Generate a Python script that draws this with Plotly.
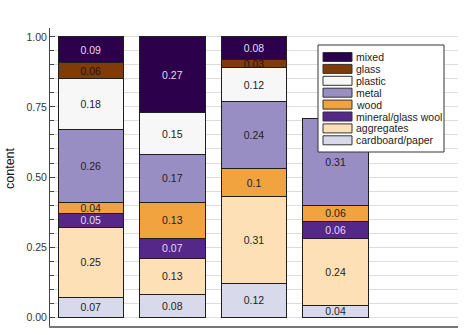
import plotly.graph_objects as go

# Material shares per container (bottom to top stacking order)
containers = ["A", "B", "C", "D"]
materials = ["cardboard/paper", "aggregates", "mineral/glass wool", "wood",
             "metal", "plastic", "glass", "mixed"]
cardboard = [0.07, 0.08, 0.12, 0.04]
aggregates = [0.25, 0.13, 0.31, 0.24]
mineral_wool = [0.05, 0.07, 0.00, 0.06]
wood = [0.04, 0.13, 0.10, 0.06]
metal = [0.26, 0.17, 0.24, 0.31]
plastic = [0.18, 0.15, 0.12, 0.00]
glass = [0.06, 0.00, 0.03, 0.00]
mixed = [0.09, 0.27, 0.08, 0.00]
series = [cardboard, aggregates, mineral_wool, wood, metal, plastic, glass, mixed]

colors = ["#d8daeb", "#fee0b6", "#542788", "#f1a340",
          "#998ec3", "#f7f7f7", "#7f3b08", "#2d004b"]
text_colors = ["#222222", "#222222", "#e4dcf2", "#222222",
               "#222222", "#222222", "#2a1200", "#e4dcf2"]

y_ticks = [0.0, 0.25, 0.5, 0.75, 1.0]
y_ticklabels = ["0.00", "0.25", "0.50", "0.75", "1.00"]

FONT = "Liberation Sans, Arial, Helvetica, sans-serif"
FS = 10.5
W, H = 474, 335
ML, MR, MT, MB = 50, 16, 28, 9

fig = go.Figure()
for name, vals, col, tcol in zip(materials, series, colors, text_colors):
    fig.add_trace(go.Bar(
        x=list(range(len(containers))), y=vals, name=name,
        marker=dict(color=col, line=dict(color="#1e1e1e", width=1)),
        width=0.8,
        text=[f"{v:g}" if v > 0 else "" for v in vals],
        textposition="inside", insidetextanchor="middle",
        textfont=dict(color=tcol, size=FS, family=FONT),
        showlegend=False, hoverinfo="skip",
    ))

# Custom legend with wide swatches, drawn in paper coordinates
pw, ph = W - ML - MR, H - MT - MB
px = lambda x: (x - ML) / pw
py = lambda y: (H - MB - y) / ph

shapes = [dict(type="rect", xref="paper", yref="paper",
               x0=px(318), x1=px(444), y0=py(152), y1=py(45),
               fillcolor="white", line=dict(color="#333333", width=1), layer="above")]
annotations = []
legend_order = list(zip(materials, colors))[::-1]
for i, (name, col) in enumerate(legend_order):
    yc = 57 + 11.9 * i
    shapes.append(dict(type="rect", xref="paper", yref="paper",
                       x0=px(323), x1=px(352), y0=py(yc + 4.5), y1=py(yc - 4.5),
                       fillcolor=col, line=dict(color="#333333", width=1), layer="above"))
    annotations.append(dict(xref="paper", yref="paper", x=px(356), y=py(yc),
                            text=name, showarrow=False, xanchor="left", yanchor="middle",
                            xshift=-2, font=dict(size=FS, color="#222222", family=FONT)))

# y-axis title
annotations.append(dict(xref="paper", yref="paper", x=px(10), y=py(168),
                        text="content", textangle=-90, showarrow=False,
                        xanchor="center", yanchor="middle",
                        font=dict(size=12.5, color="#111111", family=FONT)))

fig.update_layout(
    barmode="stack",
    width=W, height=H,
    margin=dict(l=ML, r=MR, t=MT, b=MB),
    paper_bgcolor="white", plot_bgcolor="white",
    font=dict(family=FONT, size=FS, color="#333333"),
    uniformtext=dict(mode="show", minsize=FS),
    shapes=shapes, annotations=annotations,
    xaxis=dict(range=[-0.5, 4.5], showticklabels=False, ticks="", showgrid=False,
               zeroline=False, showline=True, linecolor="#777777", linewidth=1.5,
               fixedrange=True),
    yaxis=dict(range=[-0.032, 1.032], tickvals=y_ticks, ticktext=y_ticklabels,
               ticks="inside", ticklen=5, tickcolor="#444444", tickwidth=1,
               showline=True, linecolor="#444444", linewidth=1,
               showgrid=True, gridcolor="#dddddd", gridwidth=1, zeroline=False,
               tickfont=dict(size=FS, color="#333333", family=FONT),
               minor=dict(dtick=0.05, tick0=0, ticks="inside", ticklen=4,
                          tickcolor="#444444", showgrid=True, gridcolor="#dddddd")),
)

fig.write_html("out.html")
